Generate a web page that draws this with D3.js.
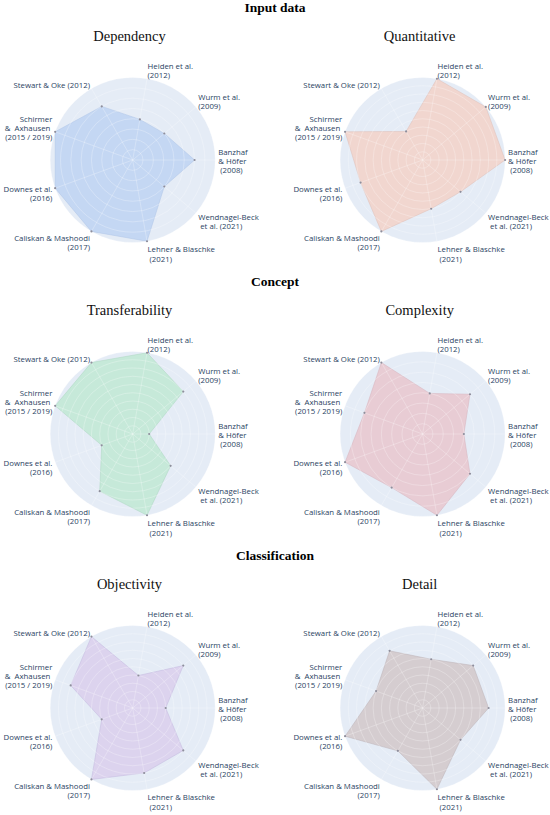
<!DOCTYPE html>
<html>
<head>
<meta charset="utf-8">
<script src="https://cdn.jsdelivr.net/npm/d3@7/dist/d3.min.js"></script>
<style>
  body { margin: 0; background: #fff; }
  text { white-space: pre; }
</style>
</head>
<body>
<div id="chart"></div>
<script>
// categories go counter-clockwise starting at 3 o'clock
const categories = [
    "Banzhaf\n& Höfer\n (2008)",
    "Wurm et al.\n(2009)",
    "Heiden et al.\n(2012)",
    "Stewart & Oke (2012)",
    "Schirmer\n&  Axhausen \n(2015 / 2019)",
    "Downes et al.\n(2016)",
    "Caliskan & Mashoodi\n(2017)",
    "Lehner & Blaschke\n (2021)",
    "Wendnagel-Beck\n et al. (2021)"
];

const dependency      = [3, 2, 2, 3, 4, 4, 4, 4, 2];
const quantitative    = [5, 5, 5, 2, 5, 4, 5, 3, 3];
const transferability = [1, 4, 5, 5, 5, 2, 4, 5, 3];
const complexity      = [2, 3, 2, 4, 3, 4, 3, 4, 3];
const objectivity     = [2, 4, 2, 5, 4, 2, 5, 4, 4];
const detail          = [4, 4, 3, 4, 3, 5, 3, 5, 3];

const sections = ["Input data", "Concept", "Classification"];
const chartTitles = ["Dependency", "Quantitative", "Transferability", "Complexity", "Objectivity", "Detail"];
const chartValues = [dependency, quantitative, transferability, complexity, objectivity, detail];
const scaleMax = [4, 5, 5, 4, 5, 5];
const gridStep = 0.5;

const fillColors = ['#C4D7F3', '#F1D6CF', '#C6E9D9', '#E8CCD4', '#DCD3EE', '#D5CDD0'];
const lineColors = ['#AFC4E6', '#DEBFB7', '#ACD6C1', '#D6B3BD', '#C3B8DE', '#BDB3B7'];

const width = 550;
const height = 815;
const radius = 82.5;
const rowGap = 274;
const colX = [132.7, 422.6];
const titleX = [129.5, 419.7];

const svg = d3.select("#chart")
    .append("svg")
    .attr("width", width)
    .attr("height", height);

svg.append("rect").attr("width", width).attr("height", height).attr("fill", "#fff");

// section headings
sections.forEach((s, i) => {
    svg.append("text")
        .attr("x", width / 2)
        .attr("y", 12 + i * rowGap)
        .attr("text-anchor", "middle")
        .style("font-family", "'Liberation Serif', serif")
        .style("font-weight", "bold")
        .style("font-size", "13.5px")
        .style("fill", "#000")
        .text(s);
});

const angle = d3.scaleLinear()
    .domain([0, categories.length])
    .range([0, 2 * Math.PI]);

chartValues.forEach((values, ci) => {
    const row = Math.floor(ci / 2);
    const col = ci % 2;
    const cx = colX[col];
    const cy = 160 + row * rowGap;

    svg.append("text")
        .attr("x", titleX[col])
        .attr("y", 41 + row * rowGap)
        .attr("text-anchor", "middle")
        .style("font-family", "'Liberation Serif', serif")
        .style("font-size", "14.5px")
        .style("fill", "#111")
        .text(chartTitles[ci]);

    const r = d3.scaleLinear().domain([0, scaleMax[ci]]).range([0, radius]);

    const g = svg.append("g").attr("transform", `translate(${cx},${cy})`);

    g.append("circle").attr("r", radius).attr("fill", "#E5ECF6");

    // d3 radial angles are clockwise from 12 o'clock
    const line = d3.lineRadial()
        .angle((d, i) => Math.PI / 2 - angle(i))
        .radius(d => r(d))
        .curve(d3.curveLinearClosed);

    g.append("path")
        .attr("d", line(values))
        .attr("fill", fillColors[ci])
        .attr("stroke", lineColors[ci])
        .attr("stroke-width", 0.5);

    // grid sits above the trace, like plotly's polar default
    const grid = g.append("g")
        .attr("stroke", "#fff")
        .attr("stroke-opacity", 0.38)
        .attr("stroke-width", 0.7)
        .attr("fill", "none");

    grid.selectAll("circle")
        .data(d3.range(gridStep, scaleMax[ci] + 1e-9, gridStep))
        .enter()
        .append("circle")
        .attr("r", d => r(d));

    grid.selectAll("line")
        .data(categories)
        .enter()
        .append("line")
        .attr("x2", (d, i) => radius * Math.cos(angle(i)))
        .attr("y2", (d, i) => -radius * Math.sin(angle(i)));

    g.selectAll(".pt")
        .data(values)
        .enter()
        .append("circle")
        .attr("class", "pt")
        .attr("cx", (d, i) => r(d) * Math.cos(angle(i)))
        .attr("cy", (d, i) => -r(d) * Math.sin(angle(i)))
        .attr("r", 1.1)
        .attr("fill", "#8E8E9C");

    // angular tick labels
    const fs = 7.8, lh = 9.2;
    categories.forEach((cat, i) => {
        const a = angle(i);
        const c = Math.cos(a), s = Math.sin(a);
        const lines = cat.split("\n");
        const n = lines.length;
        const anchor = c > 0.05 ? "start" : (c < -0.05 ? "end" : "middle");
        const lx = (radius + 3) * c;
        let dy = -s * n * lh / 2 + 1 + (s < 0 ? -s * 3 : 0);
        const ly = -radius * s + dy;
        const t = g.append("text")
            .attr("text-anchor", anchor)
            .attr("xml:space", "preserve")
            .style("font-family", "'Open Sans', sans-serif")
            .style("font-size", fs + "px")
            .style("fill", "#2a3f5f");
        lines.forEach((ln, k) => {
            t.append("tspan")
                .attr("x", lx)
                .attr("y", ly - (n - 1) * lh / 2 + k * lh + fs * 0.36)
                .text(ln);
        });
    });
});
</script>
</body>
</html>
